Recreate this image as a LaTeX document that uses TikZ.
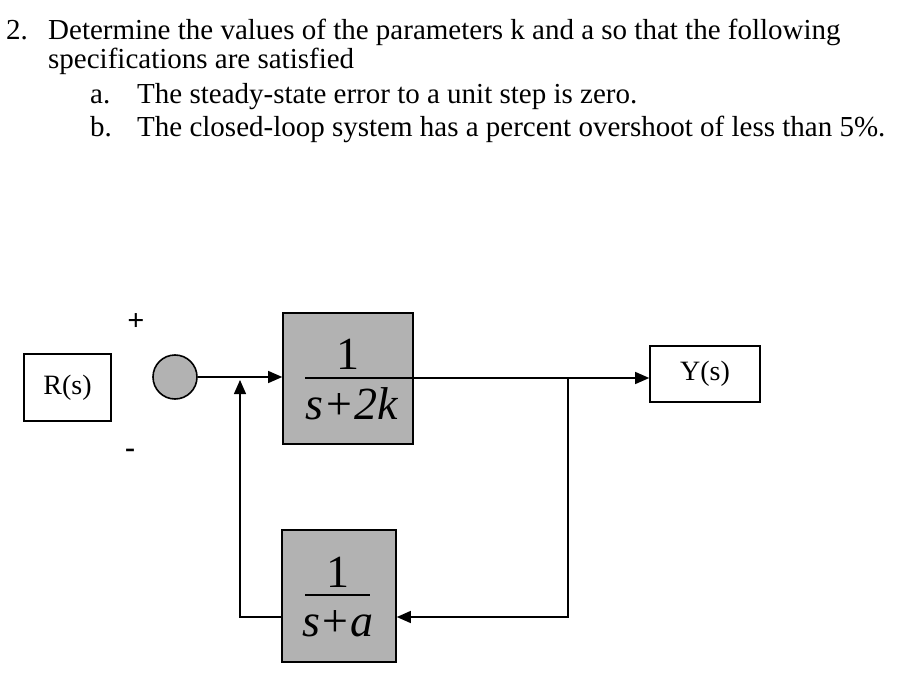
\documentclass[tikz,border=0pt]{standalone}
\usepackage{fontspec}
\setmainfont{Liberation Serif}
\usetikzlibrary{arrows.meta}
\begin{document}
\begin{tikzpicture}[x=1pt,y=-1pt,
  txt/.style={anchor=base west,inner sep=0pt,font=\fontsize{29}{33}\selectfont},
  gbox/.style={draw,line width=1.6pt,fill=gray!60,inner sep=0pt},
  wbox/.style={draw,line width=1.6pt,fill=white,inner sep=0pt,font=\fontsize{28}{32}\selectfont},
  frac/.style={font=\fontsize{46}{50}\selectfont,inner sep=0pt},
  conn/.style={line width=1.3pt},
  arr/.style={conn,-{Triangle[length=14pt,width=12pt]}}]
\useasboundingbox (0,0) rectangle (918,687);
\node[txt] (n1) at (6,40) {2.};
\node[txt] (t1) at (48,40) {Determine the values of the parameters k and a so that the following};
\node[txt] (t2) at (48,69) {specifications are satisfied};
\node[txt] (n3) at (90,104) {a.};
\node[txt] (t3) at (137,104) {The steady-state error to a unit step is zero.};
\node[txt] (n4) at (90,137) {b.};
\node[txt] (t4) at (137,137) {The closed-loop system has a percent overshoot of less than 5\%.};
\node[wbox,minimum width=87pt,minimum height=67pt] (R) at (67.5,387.5) {R(s)};
\node[draw,circle,line width=1.6pt,fill=gray!60,minimum size=44pt,inner sep=0pt] (S) at (175,377) {};
\node[font=\fontsize{30}{34}\selectfont\bfseries] (plus) at (136,322) {+};
\node[font=\fontsize{30}{34}\selectfont\bfseries] (minus) at (130,453) {-};
\node[gbox,minimum width=130pt,minimum height=131pt] (G) at (348,378.5) {};
\node[frac] (Gn) at (348,354) {1};
\node[frac,font=\fontsize{46}{50}\selectfont\itshape] (Gd) at (352,404) {s+2k};
\draw[line width=1.2pt] (305,378) -- (390,378);
\node[gbox,minimum width=114pt,minimum height=132pt] (H) at (339,596) {};
\node[frac] (Hn) at (338,572) {1};
\node[frac,font=\fontsize{46}{50}\selectfont\itshape] (Hd) at (338,624) {s+a};
\draw[line width=1.2pt] (305,595) -- (370,595);
\node[wbox,minimum width=110pt,minimum height=56pt] (Y) at (705,374) {Y(s)};
\coordinate (j1) at (240,378);
\coordinate (j2) at (568,378);
\draw[arr] (S.east) -- (G.west |- S.east);
\draw[arr] (390,378) -- (Y.west |- 0,378);
\draw[arr] (j2) -- (568,617) -- (H.east |- 0,617);
\draw[arr] (H.west |- 0,617) -- (240,617) -- (240,380);
\end{tikzpicture}
\end{document}
